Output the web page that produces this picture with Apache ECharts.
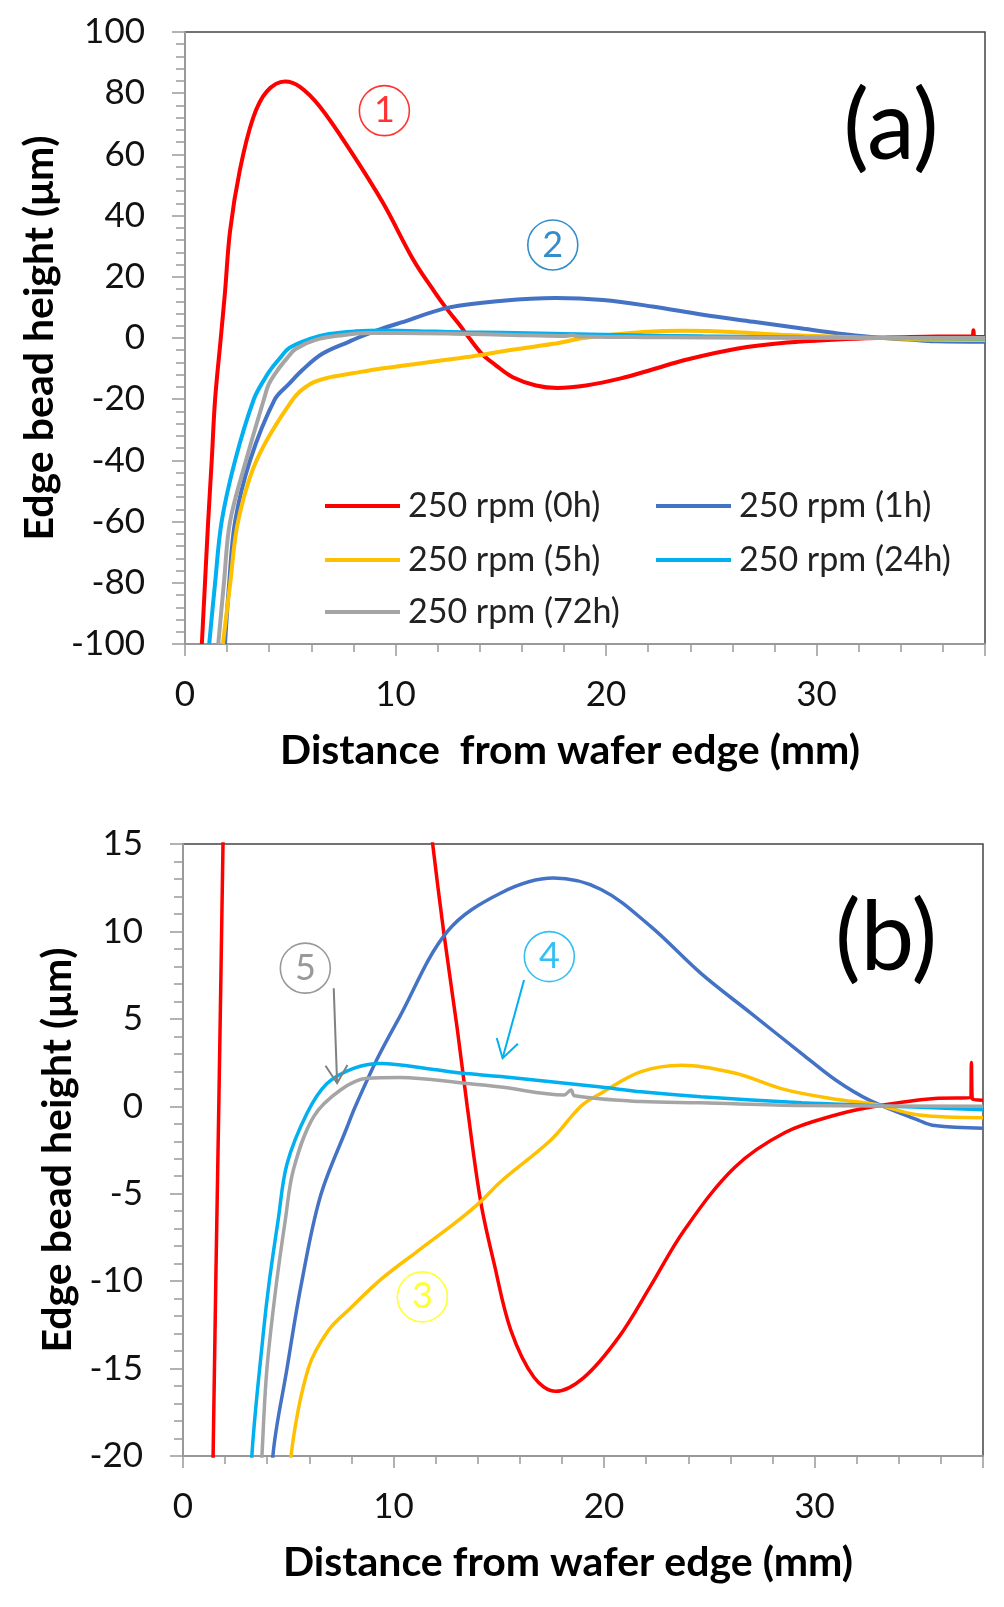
<!DOCTYPE html>
<html lang="en">
  <head>
    <meta charset="UTF-8" />
    <title>Edge bead height</title>
    <style>
      html, body { margin: 0; padding: 0; background: #fff; }
      .box { width: 1004px; height: 1607px; }
    </style>
  </head>
  <body>
    <div class="box"></div>
    <script src="https://cdn.jsdelivr.net/npm/echarts@6.0.0/dist/echarts.min.js"></script>
    <script>
      // series names (legend)
      var names = ['250 rpm (0h)', '250 rpm (1h)', '250 rpm (5h)', '250 rpm (24h)', '250 rpm (72h)'];

      // [distance from edge (mm), edge bead height (um)]
      var data0h = [[0.8,-100],[0.95,-80],[1.1,-60],[1.27,-40],[1.43,-20],[1.7,0],[1.9,15],
        [2.14,35],[2.61,55],[3.24,72],[3.88,80.5],[4.75,83.8],[5.46,82.1],[6.41,75.6],[7.84,61.4],
        [9.41,44.1],[10.85,25.5],[11.86,15],[12.38,10],[13.03,4.4],[13.5,0],[14.14,-5.45],[14.78,-9.0],
        [15.57,-12.8],[16.67,-15.5],[17.7,-16.3],[19.05,-15.5],[20.7,-13.2],[22.2,-10.3],[23.8,-7.1],
        [26.2,-3.5],[28.6,-1.5],[31.0,-0.5],[32.9,0],[35.7,0.45],[37.4,0.5],[37.45,2.5],[37.5,0.4],[38,0.35]];
      var data1h = [[1.9,-100],[2.1,-80],[2.38,-60],[3.09,-40],[4.27,-20],[4.94,-15],[5.6,-10.3],[6.52,-5.17],
        [7.8,-1.17],[8.19,0],[9.22,2.7],[10.24,5],[12.56,10],[15.1,12.2],[17.6,13.05],[19.86,12.4],[22.2,10.3],
        [24.6,7.6],[27.0,5.3],[29.4,3.0],[31.0,1.5],[32.6,0.35],[34.95,-0.8],[35.7,-1.1],[38,-1.25]];
      var data5h = [[1.8,-100],[2.15,-80],[2.52,-60],[3.4,-40],[5.13,-20],[5.95,-15],[6.92,-12.8],[7.95,-11.55],
        [9.4,-9.9],[11.13,-8.3],[13.0,-6.6],[14.14,-5.45],[15.1,-4.3],[17.5,-1.9],[18.9,0],[19.86,0.75],
        [21.76,1.98],[23.7,2.35],[26.2,1.9],[28.6,0.95],[31,0.4],[32.9,0.1],[34.95,-0.5],[38,-0.65]];
      var data24h = [[1.15,-100],[1.43,-80],[1.74,-60],[2.38,-40],[3.27,-20],[3.83,-12.8],[4.1,-10],[4.52,-6.5],
        [4.94,-3.3],[5.89,-0.4],[6.84,1.3],[8.1,2.17],[9.4,2.45],[11.9,2.1],[13.2,1.9],[15.1,1.7],[19.86,1.1],
        [21.76,0.83],[24.6,0.55],[29.4,0.2],[32.6,0.05],[38,-0.2]];
      var data72h = [[1.58,-100],[1.85,-80],[2.14,-60],[2.9,-40],[3.75,-20],[3.98,-15.1],[4.42,-10.3],[4.86,-6.5],
        [5.25,-3.6],[6.2,-0.6],[7.48,0.93],[8.75,1.6],[10.3,1.65],[13.5,1.3],[15.1,1.1],[18.1,0.65],[18.43,0.93],
        [18.6,0.6],[21.76,0.27],[24.6,0.2],[29.4,0.05],[38,0]];
      var allData = [data0h, data1h, data5h, data24h, data72h];

      var xLabels = [0, 10, 20, 30];

      // circled numbers [x, y, text] and arrows [x1, y1, x2, y2]
      var marksA = [[9.47, 74.3, '1'], [17.47, 30.4, '2']];
      var marksB = [[11.37, -10.9, '3'], [17.4, 8.56, '4'], [5.81, 7.9, '5']];
      var arrowsB = [[16.2, 7.22, 15.18, 2.75], [7.16, 6.75, 7.32, 1.32]];

      var colors = ['#FF0000', '#4472C4', '#FFC000', '#00B0F0', '#A5A5A5'];
      var markColorsA = ['#FF0000', '#0070C0'];
      var markColorsB = ['#FFFF00', '#00B0F0', '#808080'];
      var arrowColorsB = ['#00B0F0', '#808080'];

      var FONT = 'Lato';
      var myChart = echarts.init(document.querySelector('.box'), null, { renderer: 'canvas' });

      function mainX(grid) {
        return {
          gridIndex: grid, type: 'value', min: 0, max: 38, interval: 2, position: 'bottom',
          name: grid === 0 ? 'Distance  from wafer edge (mm)' : 'Distance from wafer edge (mm)',
          nameLocation: 'middle', nameGap: 86,
          nameTextStyle: { fontFamily: FONT, fontWeight: 'bold', fontSize: 41, color: '#000', padding: [0, 30, 0, 0] },
          axisLine: { onZero: false, lineStyle: { color: '#999', width: 2 } },
          axisTick: { length: 8, lineStyle: { color: '#999', width: 1.5 } },
          axisLabel: {
            margin: 33, fontFamily: FONT, fontSize: 35, color: '#111',
            formatter: function (v) { return xLabels.indexOf(v) >= 0 ? String(v) : ''; }
          },
          splitLine: { show: false }
        };
      }
      function majorX(grid) {
        return {
          gridIndex: grid, type: 'value', min: 0, max: 38, interval: 10, position: 'bottom',
          axisLine: { show: false, onZero: false },
          axisTick: { length: 12, lineStyle: { color: '#999', width: 1.5 } },
          axisLabel: { show: false }, splitLine: { show: false }
        };
      }
      function yAx(grid, min, max, interval, gap) {
        return {
          gridIndex: grid, type: 'value', min: min, max: max, interval: interval,
          name: 'Edge bead height (\u03bcm)', nameLocation: 'middle', nameGap: gap, nameRotate: 90,
          nameTextStyle: { fontFamily: FONT, fontWeight: 'bold', fontSize: 41, color: '#000' },
          axisLine: { onZero: false, lineStyle: { color: '#999', width: 2 } },
          axisTick: { length: 13, lineStyle: { color: '#999', width: 1.5 } },
          minorTick: { show: true, splitNumber: 5, length: 9, lineStyle: { color: '#999', width: 1.5 } },
          axisLabel: { margin: 40, fontFamily: FONT, fontSize: 35, color: '#111' },
          splitLine: { show: false }
        };
      }

      var series = [];
      [0, 1].forEach(function (g) {
        allData.forEach(function (d, i) {
          series.push({
            name: names[i], type: 'line', xAxisIndex: g * 2, yAxisIndex: g,
            data: d, symbol: 'none', smooth: 0.35, silent: true,
            lineStyle: { color: colors[i], width: g === 0 ? 4 : 3.5 },
            itemStyle: { color: colors[i] }, z: 2 + i
          });
        });
      });

      function markSeries(g, marks, mcolors) {
        return {
          type: 'scatter', xAxisIndex: g * 2, yAxisIndex: g, silent: true, z: 10,
          symbol: 'circle', symbolSize: 50,
          data: marks.map(function (m, i) {
            return {
              value: [m[0], m[1]],
              itemStyle: { color: 'rgba(0,0,0,0)', borderColor: mcolors[i], borderWidth: 1.6 },
              label: { show: true, position: 'inside', formatter: m[2], fontFamily: FONT, fontSize: 36, color: mcolors[i] }
            };
          })
        };
      }
      series.push(markSeries(0, marksA, markColorsA));
      series.push(markSeries(1, marksB, markColorsB));

      series.push({
        type: 'custom', xAxisIndex: 2, yAxisIndex: 1, silent: true, z: 10,
        data: arrowsB,
        encode: { x: [0, 2], y: [1, 3] },
        renderItem: function (params, api) {
          var p1 = api.coord([api.value(0), api.value(1)]);
          var p2 = api.coord([api.value(2), api.value(3)]);
          var ang = Math.atan2(p2[1] - p1[1], p2[0] - p1[0]);
          var L = 21, a = 0.55;
          var l = [p2[0] - L * Math.cos(ang - a), p2[1] - L * Math.sin(ang - a)];
          var r = [p2[0] - L * Math.cos(ang + a), p2[1] - L * Math.sin(ang + a)];
          var c = arrowColorsB[params.dataIndex];
          return {
            type: 'group', children: [
              { type: 'line', shape: { x1: p1[0], y1: p1[1], x2: p2[0], y2: p2[1] }, style: { stroke: c, lineWidth: 2 } },
              { type: 'polyline', shape: { points: [l, p2, r] }, style: { stroke: c, lineWidth: 2, fill: null } }
            ]
          };
        }
      });

      var legendPos = [[325, 488], [656, 488], [325, 542], [656, 542], [325, 594]];
      var legends = names.map(function (n, i) {
        return {
          data: [{ name: n, icon: 'rect' }], left: legendPos[i][0], top: legendPos[i][1], padding: 0,
          itemWidth: 75, itemHeight: 4, itemGap: 0, selectedMode: false,
          textStyle: { fontFamily: FONT, fontSize: 34, color: '#222', lineHeight: 36, padding: [0, 0, 0, 3] }
        };
      });

      var option = {
        animation: false,
        backgroundColor: '#fff',
        grid: [
          { left: 185, top: 32, right: 19, bottom: 963, show: true, borderColor: '#444', borderWidth: 1.5 },
          { left: 183, top: 844, right: 21, bottom: 151, show: true, borderColor: '#444', borderWidth: 1.5 }
        ],
        legend: legends,
        xAxis: [mainX(0), majorX(0), mainX(1), majorX(1)],
        yAxis: [yAx(0, -100, 100, 20, 122), yAx(1, -20, 15, 5, 101)],
        graphic: [
          { type: 'text', style: { text: '(a)', x: 891, y: 128, font: '96px Lato', fill: '#000', align: 'center', verticalAlign: 'middle' } },
          { type: 'text', style: { text: '(b)', x: 886, y: 939, font: '96px Lato', fill: '#000', align: 'center', verticalAlign: 'middle' } }
        ],
        series: series
      };
      myChart.setOption(option);
    </script>
  </body>
</html>
